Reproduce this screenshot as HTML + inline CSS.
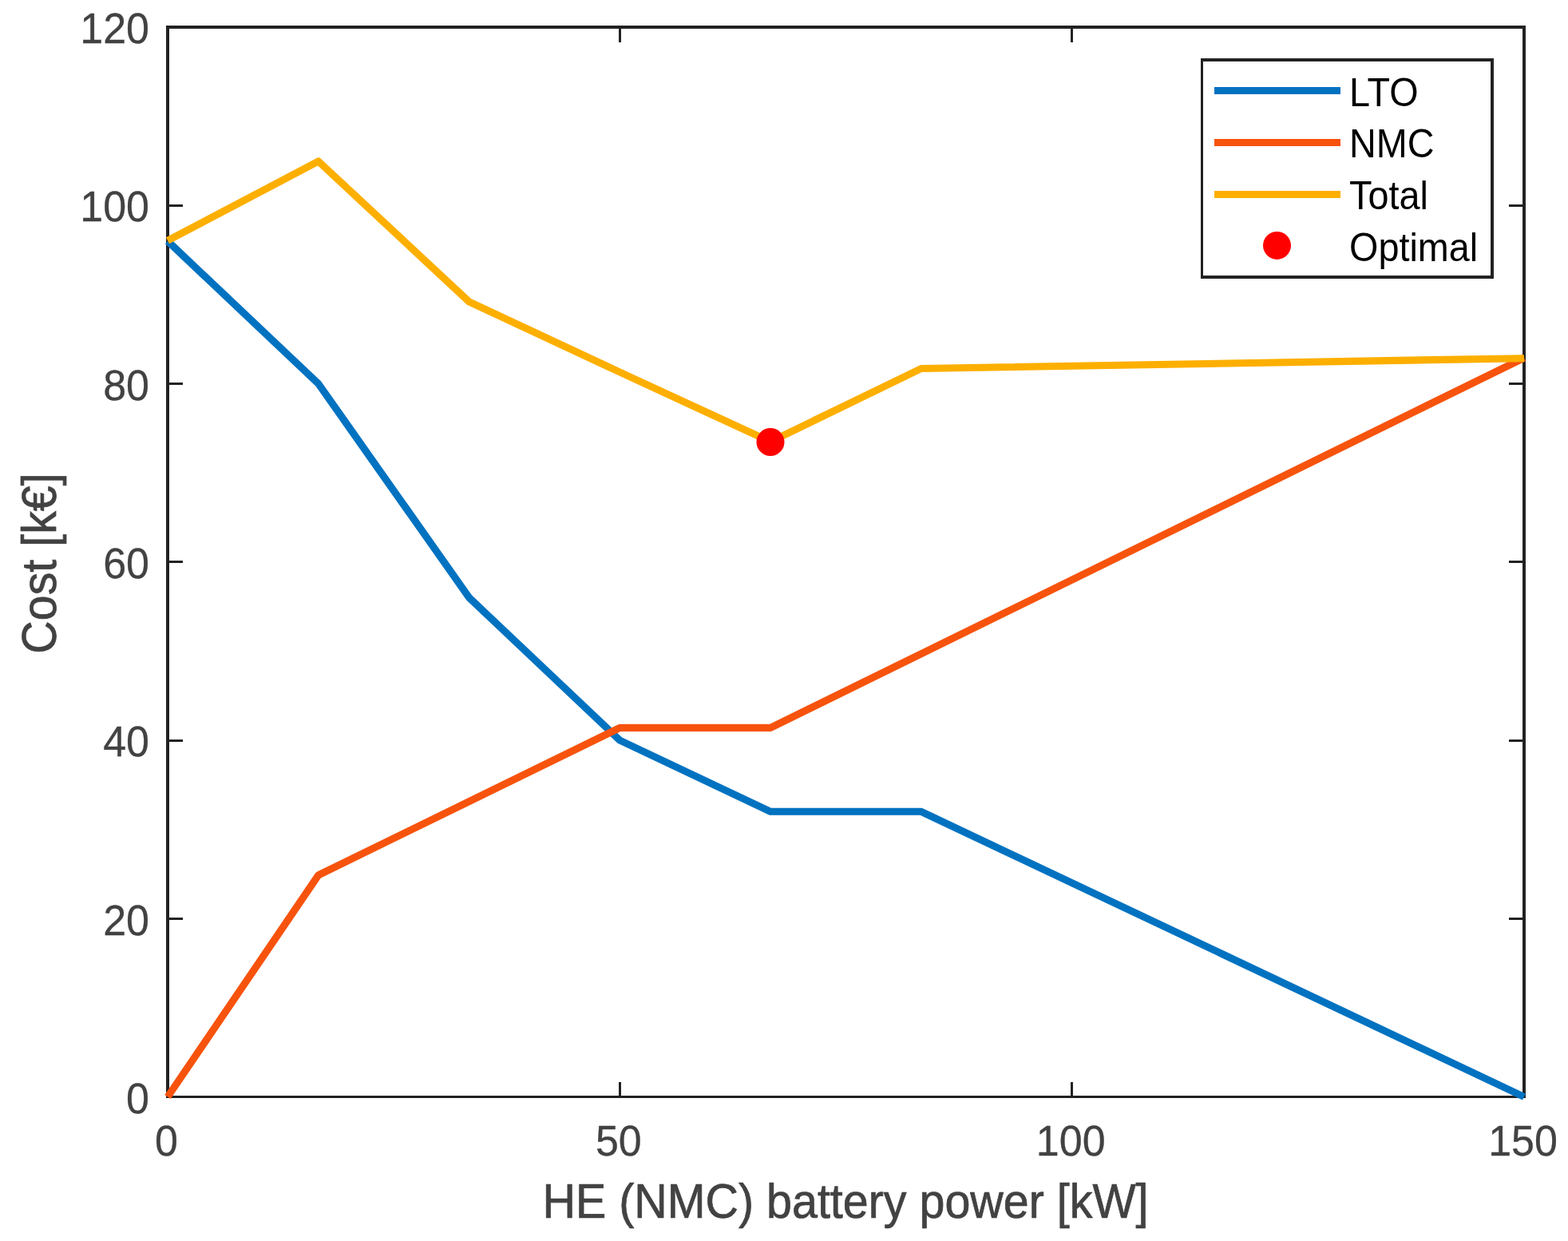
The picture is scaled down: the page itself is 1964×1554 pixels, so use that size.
<!DOCTYPE html>
<html><head><meta charset="utf-8"><title>Cost vs HE battery power</title>
<style>
html,body{margin:0;padding:0;background:#fff;overflow:hidden;}
svg{display:block;font-family:"Liberation Sans",Arial,Helvetica,sans-serif;}
</style></head>
<body>
<svg width="1964" height="1554" viewBox="0 0 1964 1554">
<rect x="0" y="0" width="1964" height="1554" fill="#fff"/>
<rect x="208" y="32" width="4" height="1343" fill="#222"/>
<rect x="1907" y="32" width="4" height="1343" fill="#222"/>
<rect x="208" y="32" width="1703" height="4" fill="#222"/>
<rect x="208" y="1372" width="1703" height="3" fill="#222"/>
<rect x="208" y="1355" width="3" height="17" fill="#222"/>
<rect x="208" y="36" width="3" height="17" fill="#222"/>
<rect x="775" y="1355" width="3" height="17" fill="#222"/>
<rect x="775" y="36" width="3" height="17" fill="#222"/>
<rect x="1341" y="1355" width="3" height="17" fill="#222"/>
<rect x="1341" y="36" width="3" height="17" fill="#222"/>
<rect x="1908" y="1355" width="3" height="17" fill="#222"/>
<rect x="1908" y="36" width="3" height="17" fill="#222"/>
<rect x="212" y="1372" width="17" height="3" fill="#222"/>
<rect x="1890" y="1372" width="17" height="3" fill="#222"/>
<rect x="212" y="1149" width="17" height="3" fill="#222"/>
<rect x="1890" y="1149" width="17" height="3" fill="#222"/>
<rect x="212" y="926" width="17" height="3" fill="#222"/>
<rect x="1890" y="926" width="17" height="3" fill="#222"/>
<rect x="212" y="702" width="17" height="3" fill="#222"/>
<rect x="1890" y="702" width="17" height="3" fill="#222"/>
<rect x="212" y="479" width="17" height="3" fill="#222"/>
<rect x="1890" y="479" width="17" height="3" fill="#222"/>
<rect x="212" y="256" width="17" height="3" fill="#222"/>
<rect x="1890" y="256" width="17" height="3" fill="#222"/>
<rect x="212" y="32" width="17" height="3" fill="#222"/>
<rect x="1890" y="32" width="17" height="3" fill="#222"/>
<text transform="translate(208.5,1446.5) scale(1,1.028)" font-size="52" text-anchor="middle" fill="#424242" stroke="#424242" stroke-width="0.3">0</text>
<text transform="translate(774.8,1446.5) scale(1,1.028)" font-size="52" text-anchor="middle" fill="#424242" stroke="#424242" stroke-width="0.3">50</text>
<text transform="translate(1341.2,1446.5) scale(1,1.028)" font-size="52" text-anchor="middle" fill="#424242" stroke="#424242" stroke-width="0.3">100</text>
<text transform="translate(1907.5,1446.5) scale(1,1.028)" font-size="52" text-anchor="middle" fill="#424242" stroke="#424242" stroke-width="0.3">150</text>
<text transform="translate(187,1394.0) scale(1,1.028)" font-size="52" text-anchor="end" fill="#424242" stroke="#424242" stroke-width="0.3">0</text>
<text transform="translate(187,1170.7) scale(1,1.028)" font-size="52" text-anchor="end" fill="#424242" stroke="#424242" stroke-width="0.3">20</text>
<text transform="translate(187,947.3) scale(1,1.028)" font-size="52" text-anchor="end" fill="#424242" stroke="#424242" stroke-width="0.3">40</text>
<text transform="translate(187,724.0) scale(1,1.028)" font-size="52" text-anchor="end" fill="#424242" stroke="#424242" stroke-width="0.3">60</text>
<text transform="translate(187,500.7) scale(1,1.028)" font-size="52" text-anchor="end" fill="#424242" stroke="#424242" stroke-width="0.3">80</text>
<text transform="translate(187,277.3) scale(1,1.028)" font-size="52" text-anchor="end" fill="#424242" stroke="#424242" stroke-width="0.3">100</text>
<text transform="translate(187,54.0) scale(1,1.028)" font-size="52" text-anchor="end" fill="#424242" stroke="#424242" stroke-width="0.3">120</text>
<text transform="translate(1059,1525) scale(1,1.07)" font-size="57.4" text-anchor="middle" fill="#424242" stroke="#424242" stroke-width="0.7">HE (NMC) battery power [kW]</text>
<text transform="translate(70,705.5) rotate(-90) scale(1,1.06)" font-size="57.4" text-anchor="middle" fill="#424242" stroke="#424242" stroke-width="0.7">Cost [k€]</text>
<polyline points="210.0,301.9 398.8,480.5 587.6,748.4 776.3,927.0 965.1,1016.3 1153.9,1016.3 1909.0,1373.5" fill="none" stroke="#0072C0" stroke-width="9.1" stroke-linejoin="round" stroke-linecap="butt"/>
<polyline points="210.0,1373.5 398.8,1095.9 776.3,911.4 965.1,911.4 1909.0,448.1" fill="none" stroke="#F7530D" stroke-width="9.1" stroke-linejoin="round" stroke-linecap="butt"/>
<polyline points="210.0,301.3 398.8,202.0 587.6,377.8 776.3,466.0 965.1,553.1 1153.9,461.5 1909.0,448.7" fill="none" stroke="#FDAF00" stroke-width="9.1" stroke-linejoin="round" stroke-linecap="butt"/>
<circle cx="965" cy="553.5" r="17.5" fill="#FF0000"/>
<rect x="1504" y="73" width="367" height="276" fill="#fff"/>
<rect x="1504" y="73" width="3" height="276" fill="#222"/>
<rect x="1867" y="73" width="4" height="276" fill="#222"/>
<rect x="1504" y="73" width="367" height="4" fill="#222"/>
<rect x="1504" y="345" width="367" height="4" fill="#222"/>
<rect x="1521" y="109.0" width="158" height="9" fill="#0072C0"/>
<rect x="1521" y="174.0" width="158" height="9" fill="#F7530D"/>
<rect x="1521" y="239.0" width="158" height="9" fill="#FDAF00"/>
<circle cx="1599.5" cy="307.4" r="17.5" fill="#FF0000"/>
<text transform="translate(1690,132.7) scale(1,1.05)" font-size="46.8" fill="#000">LTO</text>
<text transform="translate(1690,196.7) scale(1,1.05)" font-size="46.8" fill="#000">NMC</text>
<text transform="translate(1690,261.7) scale(1,1.05)" font-size="46.8" fill="#000">Total</text>
<text transform="translate(1690,326.7) scale(1,1.05)" font-size="46.8" fill="#000">Optimal</text>
</svg>
</body></html>
